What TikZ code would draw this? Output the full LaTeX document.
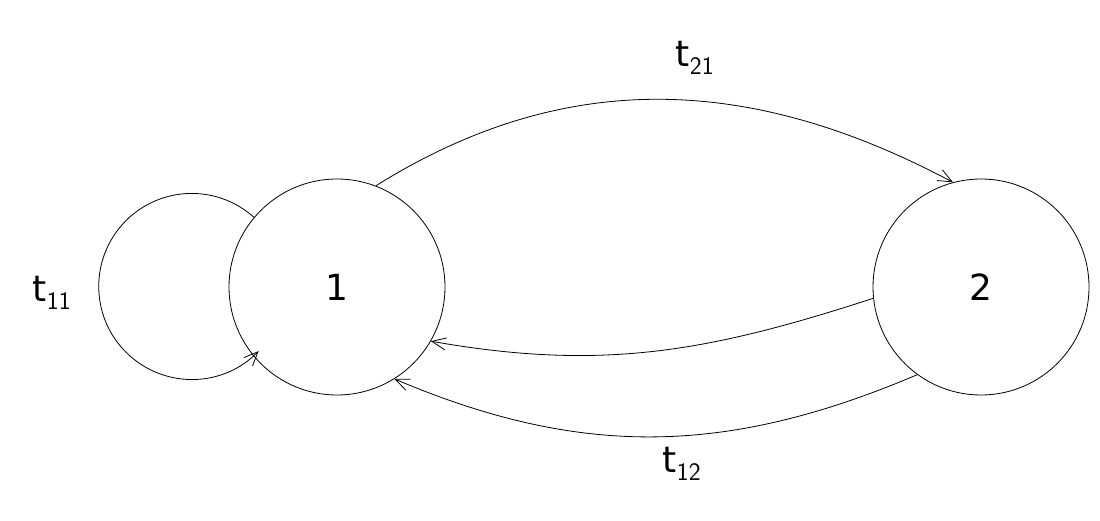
\documentclass[tikz,border=0pt]{standalone}
\usepackage{fontspec}
\setmainfont{DejaVu Sans}
\usetikzlibrary{arrows.meta}
\begin{document}
\begin{tikzpicture}[x=1pt,y=-1pt,
  st/.style={circle,draw,line width=0.8pt,minimum size=216pt,inner sep=0pt,font=\fontsize{36}{40}\selectfont},
  lab/.style={font=\fontsize{36}{40}\selectfont},
  ar/.style={-{Straight Barb[length=14pt,width=12pt]},line width=0.8pt}]
\useasboundingbox (0,0) rectangle (1100,521);
\node[st] (n1) at (337,287) {1};
\node[st] (n2) at (981,287) {2};
\draw[ar] (n1.140) arc[start angle=48,end angle=316,radius=93pt];
\draw[ar] (n1.69) to[out=32,in=152] (n2.105);
\draw[ar] (n2.186) to[out=198,in=-10] (n1.-30);
\draw[ar] (n2.234) to[out=203,in=-23] (n1.-58);
\node[lab] (a) at (695,58) {t$_{\mathsf{21}}$};
\node[lab] (b) at (682,464) {t$_{\mathsf{12}}$};
\node[lab] (c) at (52,293) {t$_{\mathsf{11}}$};
\end{tikzpicture}
\end{document}
